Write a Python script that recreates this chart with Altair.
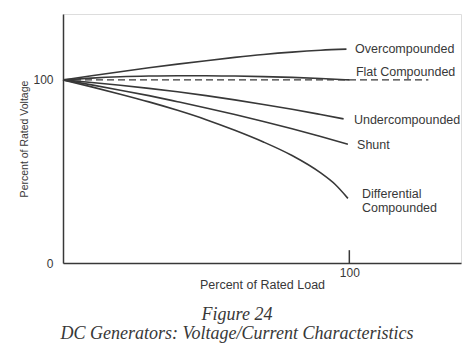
import altair as alt
import pandas as pd

# ---- data ----
load_over = [0, 10, 20, 30, 40, 50, 60, 70, 80, 90, 99]
volt_over = [100, 102.3, 104.5, 106.6, 108.6, 110.5, 112.3, 113.9, 115.2, 116.2, 116.8]

load_flat = [0, 10, 20, 30, 40, 50, 60, 70, 80, 90, 100]
volt_flat = [100, 101.0, 101.7, 102.1, 102.3, 102.3, 102.1, 101.8, 101.4, 100.8, 100]

load_under = [0, 10, 20, 30, 40, 50, 60, 70, 80, 90, 98]
volt_under = [100, 98.6, 97.1, 95.4, 93.5, 91.4, 89.1, 86.6, 84.0, 81.1, 78.7]

load_shunt = [0, 10, 20, 30, 40, 50, 60, 70, 80, 90, 99.5]
volt_shunt = [100, 97.3, 94.4, 91.4, 88.1, 84.7, 81.1, 77.3, 73.3, 69.1, 64.9]

load_diff = [0, 10, 20, 30, 40, 50, 60, 70, 80, 90, 95, 99.5]
volt_diff = [100, 96.2, 92.2, 88.0, 83.4, 78.3, 72.5, 66.1, 58.7, 49.2, 43.0, 35.3]

load_ref = [0, 127.6]
volt_ref = [100, 100]

tick_load = [100]
tick_low = [0]
tick_high = [7]

label_text = ["Overcompounded", "Flat Compounded", "Undercompounded", "Shunt",
              "Differential", "Compounded"]
label_load = [102.0, 102.3, 101.6, 102.7, 104.4, 104.4]
label_volt = [116.9, 104.4, 78.1, 64.5, 37.8, 30.3]

x_ticks = [100]
y_ticks = [0, 100]

# ---- tables ----
series = [
    ("Overcompounded", load_over, volt_over),
    ("Flat Compounded", load_flat, volt_flat),
    ("Undercompounded", load_under, volt_under),
    ("Shunt", load_shunt, volt_shunt),
    ("Differential Compounded", load_diff, volt_diff),
]
rows = []
for name, xs, ys in series:
    for i, (a, b) in enumerate(zip(xs, ys)):
        rows.append({"series": name, "load": a, "volt": b, "order": i})
curves = pd.DataFrame(rows)
ref = pd.DataFrame({"load": load_ref, "volt": volt_ref})
tick = pd.DataFrame({"load": tick_load, "lo": tick_low, "hi": tick_high})
labels = pd.DataFrame({"text": label_text, "load": label_load, "volt": label_volt})

INK = "#383838"

xscale = alt.Scale(domain=[0, 139], nice=False, zero=True)
yscale = alt.Scale(domain=[0, 136], nice=False, zero=True)

xaxis = alt.Axis(values=x_ticks, ticks=False, grid=False, labelFontSize=12,
                 labelPadding=4, labelColor=INK, title="Percent of Rated Load",
                 titleFontSize=12.5, titleFontWeight="normal", titleColor=INK,
                 titlePadding=0, domainColor=INK, domainWidth=1.5)
yaxis = alt.Axis(values=y_ticks, ticks=False, grid=False, labelFontSize=12,
                 labelPadding=10, labelColor=INK, title="Percent of Rated Voltage",
                 titleFontSize=10.5, titleFontWeight="normal", titleColor=INK,
                 titlePadding=3, domainColor=INK, domainWidth=1.5)

lines = alt.Chart(curves).mark_line(color=INK, strokeWidth=1.6, interpolate="monotone").encode(
    x=alt.X("load:Q", scale=xscale, axis=xaxis),
    y=alt.Y("volt:Q", scale=yscale, axis=yaxis),
    detail="series:N",
    order="order:Q",
)

dashed = alt.Chart(ref).mark_line(color=INK, strokeWidth=1.4, strokeDash=[7, 4]).encode(
    x=alt.X("load:Q", scale=xscale),
    y=alt.Y("volt:Q", scale=yscale),
)

tickmark = alt.Chart(tick).mark_rule(color=INK, strokeWidth=1.5).encode(
    x=alt.X("load:Q", scale=xscale),
    y=alt.Y("lo:Q", scale=yscale),
    y2="hi:Q",
)

text = alt.Chart(labels).mark_text(align="left", baseline="middle", fontSize=12.5,
                                   color=INK, font="Liberation Sans").encode(
    x=alt.X("load:Q", scale=xscale),
    y=alt.Y("volt:Q", scale=yscale),
    text="text:N",
)

chart = alt.layer(dashed, lines, tickmark, text).properties(
    width=398,
    height=249,
    autosize=alt.AutoSizeParams(type="none"),
    padding={"left": 63, "top": 14, "right": 13, "bottom": 88},
    background="white",
    title=alt.TitleParams(
        ["Figure 24", "DC Generators: Voltage/Current Characteristics"],
        orient="bottom", anchor="middle", frame="group", dx=-25,
        font="Liberation Serif", fontStyle="italic", fontWeight="normal",
        fontSize=18, lineHeight=19, offset=15, color=INK,
    ),
).configure_view(stroke=None).configure(font="Liberation Sans")

chart.save("out.html", embed_options={"renderer": "svg", "actions": False})
